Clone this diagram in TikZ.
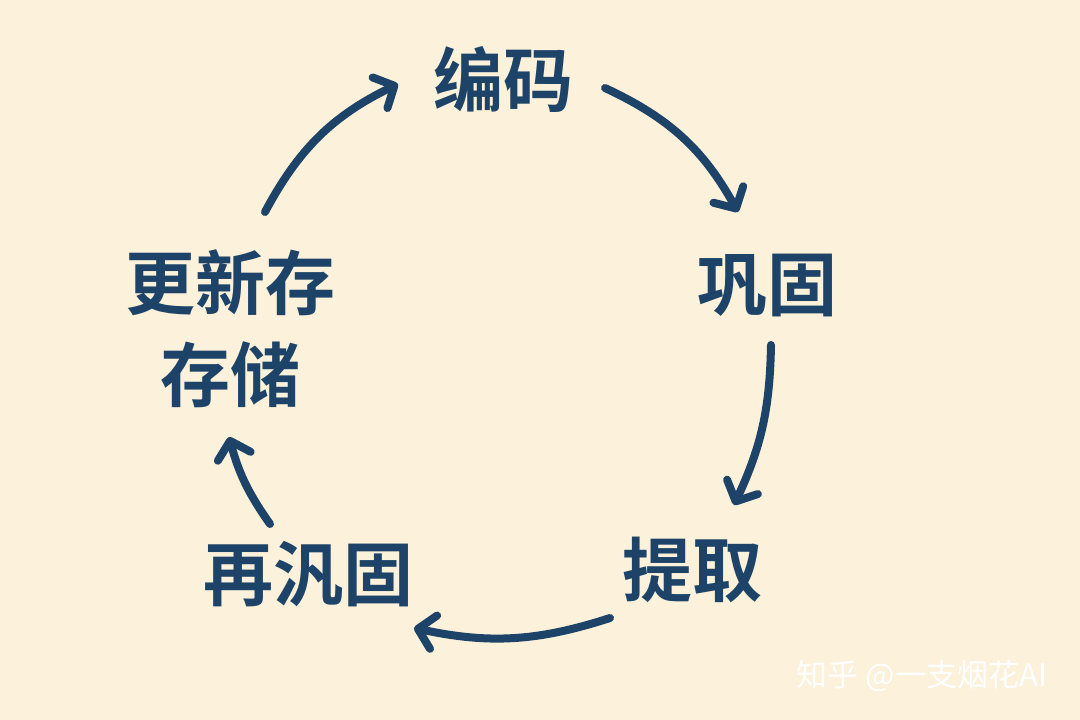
\documentclass[tikz,border=0pt]{standalone}
\usepackage{fontspec}
\newfontfamily\cjk{Noto Sans CJK SC}[BoldFont={Noto Sans CJK SC Bold}]
\usetikzlibrary{arrows.meta}
\definecolor{bg}{HTML}{FCF1DA}
\definecolor{ink}{HTML}{1D4468}
\begin{document}
\begin{tikzpicture}[x=1pt,y=-1pt,
  lbl/.style={text=ink,font=\cjk\bfseries\fontsize{70}{92}\selectfont,inner sep=0pt,align=center},
  arr/.style={draw=ink,line width=8pt,line cap=round,-{Straight Barb[length=16pt,width=34pt,line cap=round,line join=round]}}]
\fill[bg] (0,0) rectangle (1080,720);
\node[lbl] (enc) at (503,80) {编码};
\node[lbl] (con) at (767,286) {巩固};
\node[lbl] (ret) at (692,570) {提取};
\node[lbl] (rec) at (308,574) {再汎固};
\node[lbl] (upd) at (230,329) {更新存\\存储};
\node[text=white,font=\cjk\fontsize{31}{36}\selectfont,inner sep=0pt] (wm) at (922,676) {知乎 @一支烟花AI};
\coordinate (a1s) at (265,212); \coordinate (a1e) at (398,84);
\coordinate (a2s) at (605,88);  \coordinate (a2e) at (738,212);
\coordinate (a3s) at (771,345); \coordinate (a3e) at (734,505);
\coordinate (a4s) at (610,618); \coordinate (a4e) at (414,628);
\coordinate (a5s) at (270,524); \coordinate (a5e) at (229,437);
\draw[arr] (a1s) to[bend left=18] (a1e);
\draw[arr] (a2s) to[bend left=18] (a2e);
\draw[arr] (a3s) to[bend left=12] (a3e);
\draw[arr] (a4s) to[bend left=15] (a4e);
\draw[arr] (a5s) to[bend left=10] (a5e);
\end{tikzpicture}
\end{document}
